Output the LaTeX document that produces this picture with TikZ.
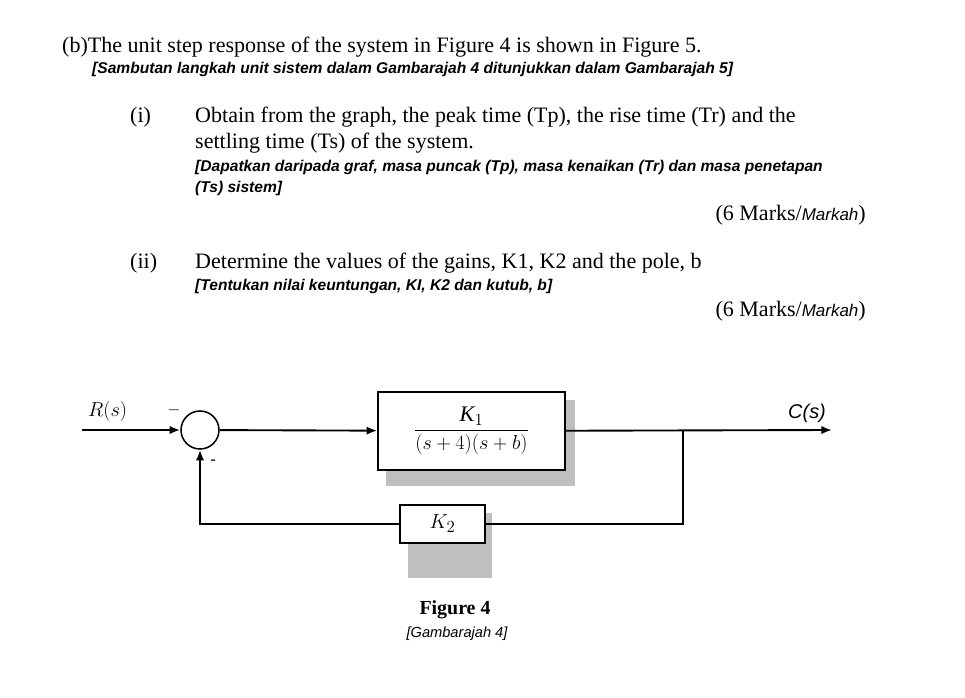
\documentclass[tikz,border=0pt]{standalone}
\usepackage{amsmath}
\usepackage{fontspec}
\setmainfont{Liberation Serif}
\newfontfamily\sansf{Liberation Sans}
\usetikzlibrary{arrows.meta}
\begin{document}
\begin{tikzpicture}[x=0.03cm,y=-0.03cm,
  main/.style={anchor=base west,inner sep=0,font=\fontsize{18.8}{22}\selectfont},
  ital/.style={anchor=base west,inner sep=0,font=\sansf\itshape\bfseries\fontsize{13.3}{15}\selectfont},
  blk/.style={draw,line width=1.3pt,fill=white},
  ln/.style={line width=1.6pt},
  arr/.style={ln,-{Latex[length=9pt,width=7pt]}}]
\useasboundingbox (0,0) rectangle (965,697);
\node[main] (l1) at (62,52) {(b)The unit step response of the system in Figure 4 is shown in Figure 5.};
\node[ital] (l2) at (92,73) {[Sambutan langkah unit sistem dalam Gambarajah 4 ditunjukkan dalam Gambarajah 5]};
\node[main] (i) at (130,122) {(i)};
\node[main] (l3) at (195,122) {Obtain from the graph, the peak time (Tp), the rise time (Tr) and the};
\node[main] (l4) at (195,148) {settling time (Ts) of the system.};
\node[ital] (l5) at (195,171) {[Dapatkan daripada graf, masa puncak (Tp), masa kenaikan (Tr) dan masa penetapan};
\node[ital] (l6) at (195,192) {(Ts) sistem]};
\node[main,anchor=base east] (m1) at (866,220) {(6 Marks/{\sansf\itshape\fontsize{14.5}{16}\selectfont Markah})};
\node[main] (ii) at (130,268) {(ii)};
\node[main] (l7) at (195,268) {Determine the values of the gains, K1, K2 and the pole, b};
\node[ital] (l8) at (195,290) {[Tentukan nilai keuntungan, KI, K2 dan kutub, b]};
\node[main,anchor=base east] (m2) at (866,316) {(6 Marks/{\sansf\itshape\fontsize{14.5}{16}\selectfont Markah})};
% diagram
\fill[gray!50] (386,400) rectangle (575,486);
\fill[gray!50] (408,513) rectangle (492,578);
\node[blk,minimum width=187*0.03cm,minimum height=78*0.03cm,inner sep=0] (G) at (471.5,431) {\fontsize{19}{22}\selectfont$\dfrac{\mathit{K}_1}{(s+4)(s+b)}$};
\node[blk,minimum width=85*0.03cm,minimum height=38*0.03cm,inner sep=0] (H) at (442.5,524) {\fontsize{19}{22}\selectfont$K_2$};
\node[draw,circle,line width=1.3pt,minimum size=38*0.03cm,inner sep=0] (S) at (200,430) {};
\coordinate (R) at (82,430);
\coordinate (C) at (832,430);
\coordinate (B) at (683,430);
\node[anchor=base west,inner sep=0,font=\fontsize{19}{22}\selectfont] (Rl) at (88,416) {$R(s)$};
\node[anchor=base west,inner sep=0,font=\sansf\itshape\fontsize{17}{20}\selectfont] (Cl) at (788,418) {C(s)};
\node[font=\fontsize{14}{16}\selectfont] (p1) at (174,410) {$-$};
\node[font=\fontsize{14}{16}\selectfont] (p2) at (213,462) {-};
\draw[arr] (R) -- (S);
\draw[arr] (S) -- (G);
\draw[arr] (G) -- (C);
\draw[ln] (B) |- (H);
\draw[arr] (H) -| (S);
\node[anchor=base,inner sep=0,font=\bfseries\fontsize{17}{20}\selectfont] (f) at (455,614) {Figure 4};
\node[anchor=base,inner sep=0,font=\sansf\itshape\fontsize{12.5}{15}\selectfont] (f2) at (457,637) {[Gambarajah 4]};
\end{tikzpicture}
\end{document}
